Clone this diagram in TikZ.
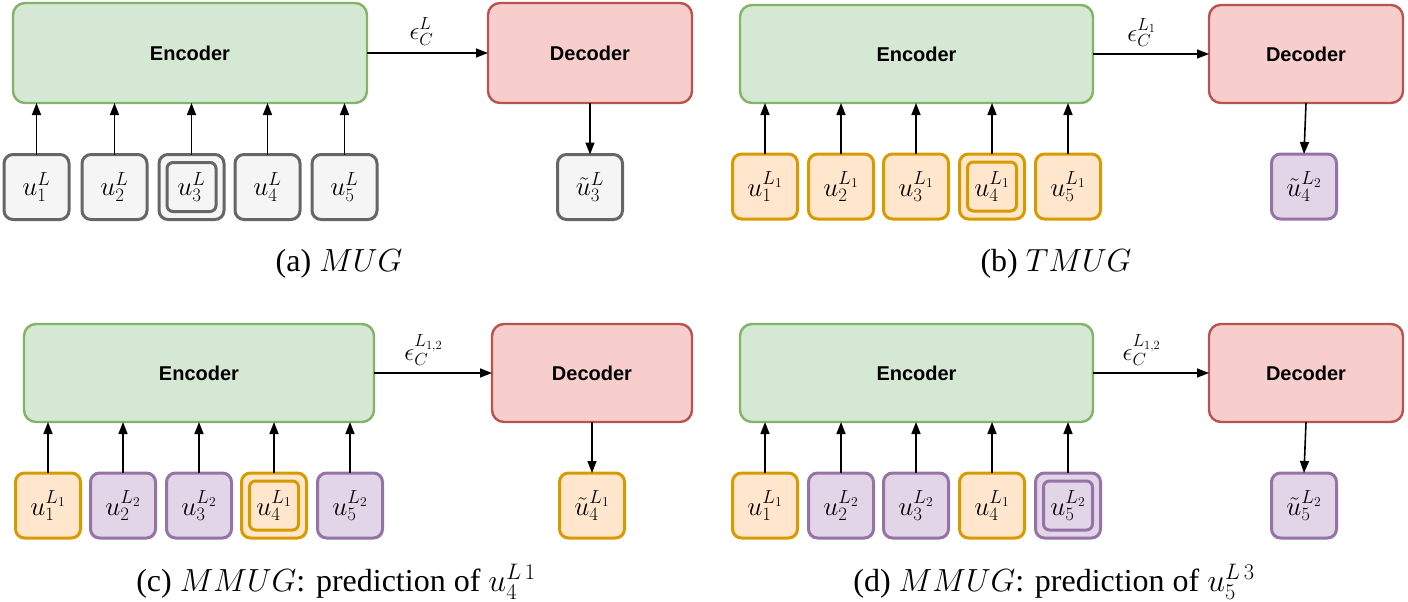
\RequirePackage{fix-cm}
\documentclass[tikz,border=0pt]{standalone}
\usepackage{fontspec}
\setmainfont{Liberation Serif}
\newfontfamily\hvfont{Liberation Sans}
\usetikzlibrary{arrows.meta}
\definecolor{gfill}{HTML}{F5F5F5}\definecolor{gline}{HTML}{666666}
\definecolor{ofill}{HTML}{FFE6CC}\definecolor{oline}{HTML}{D79B00}
\definecolor{pfill}{HTML}{E1D5E7}\definecolor{pline}{HTML}{9673A6}
\definecolor{encfill}{HTML}{D5E8D4}\definecolor{encline}{HTML}{82B366}
\definecolor{decfill}{HTML}{F8CECC}\definecolor{decline}{HTML}{B85450}
\begin{document}
\begin{tikzpicture}[x=1pt,y=-1pt,
  blk/.style={rounded corners=12pt, line width=2.4pt, inner sep=0pt, outer sep=0pt,
    font=\hvfont\bfseries\fontsize{20}{24}\selectfont},
  enc/.style={blk, draw=encline, fill=encfill},
  dec/.style={blk, draw=decline, fill=decfill},
  ubox/.style={rounded corners=9pt, line width=3pt, minimum width=65pt, minimum height=65pt,
    inner sep=0pt, outer sep=0pt, font=\fontsize{27}{30}\selectfont},
  gbox/.style={ubox, draw=gline, fill=gfill},
  obox/.style={ubox, draw=oline, fill=ofill},
  pbox/.style={ubox, draw=pline, fill=pfill},
  inbox/.style={rounded corners=6pt, line width=3pt, minimum width=49pt, minimum height=49pt,
    inner sep=0pt, fill=none},
  utxt/.style={font=\fontsize{27}{30}\selectfont, inner sep=0pt},
  arr/.style={line width=1.6pt, -{Triangle[length=12pt,width=9pt]}},
  elbl/.style={font=\fontsize{25}{28}\selectfont, inner sep=1pt},
  captxt/.style={font=\fontsize{32}{36}\selectfont, inner sep=0pt}
]
\useasboundingbox (0,0) rectangle (1408,602);

% ---------- panel (a)
\node[enc, minimum width=354pt, minimum height=100pt] (ea) at (190,53) {Encoder};
\node[dec, minimum width=204pt, minimum height=100pt] (da) at (590,53) {Decoder};
\node[gbox] (a1) at (36.5,187) {$u_1^L$};
\node[gbox] (a2) at (114.5,187) {$u_2^L$};
\node[gbox] (a3) at (191.5,187) {};
\node[inbox, draw=gline] (a3i) at (a3.center) {};
\node[utxt] (a3t) at (a3.center) {$u_3^L$};
\node[gbox] (a4) at (267.5,187) {$u_4^L$};
\node[gbox] (a5) at (344.5,187) {$u_5^L$};
\node[gbox] (ao) at (590,187) {$\tilde u_3^L$};
\foreach \i in {1,...,5} \draw[arr] (a\i.north) -- (a\i.north |- ea.south);
\draw[arr] (ea) -- node[pos=0.45, above=6pt, elbl] (la) {$\epsilon_C^L$} (da);
\draw[arr] (da.south) -- (ao.north);
\node[captxt] (capa) at (339,264) {(a) $MUG$};

% ---------- panel (b)
\node[enc, minimum width=353pt, minimum height=98pt] (eb) at (916.5,54) {Encoder};
\node[dec, minimum width=194pt, minimum height=98pt] (db) at (1306,54) {Decoder};
\node[obox] (b1) at (765,186.5) {$u_1^{L_1}$};
\node[obox] (b2) at (841,186.5) {$u_2^{L_1}$};
\node[obox] (b3) at (916,186.5) {$u_3^{L_1}$};
\node[obox] (b4) at (992,186.5) {};
\node[inbox, draw=oline] (b4i) at (b4.center) {};
\node[utxt] (b4t) at (b4.center) {$u_4^{L_1}$};
\node[obox] (b5) at (1068,186.5) {$u_5^{L_1}$};
\node[pbox] (bo) at (1304,186.5) {$\tilde u_4^{L_2}$};
\foreach \i in {1,...,5} \draw[arr] (b\i.north) -- (b\i.north |- eb.south);
\draw[arr] (eb) -- node[pos=0.42, above=6pt, elbl] (lb) {$\epsilon_C^{L_1}$} (db);
\draw[arr] (db.south) -- (bo.north);
\node[captxt] (capb) at (1056,264) {(b) $TMUG$};

% ---------- panel (c)
\node[enc, minimum width=350pt, minimum height=98pt] (ec) at (199,373) {Encoder};
\node[dec, minimum width=200pt, minimum height=98pt] (dc) at (592,373) {Decoder};
\node[obox] (c1) at (48,505.5) {$u_1^{L_1}$};
\node[pbox] (c2) at (123,505.5) {$u_2^{L_2}$};
\node[pbox] (c3) at (199,505.5) {$u_3^{L_2}$};
\node[obox] (c4) at (274,505.5) {};
\node[inbox, draw=oline] (c4i) at (c4.center) {};
\node[utxt] (c4t) at (c4.center) {$u_4^{L_1}$};
\node[pbox] (c5) at (350,505.5) {$u_5^{L_2}$};
\node[obox] (co) at (592,505.5) {$\tilde u_4^{L_1}$};
\foreach \i in {1,...,5} \draw[arr] (c\i.north) -- (c\i.north |- ec.south);
\draw[arr] (ec) -- node[pos=0.42, above=6pt, elbl] (lc) {$\epsilon_C^{L_{1,2}}$} (dc);
\draw[arr] (dc.south) -- (co.north);
\node[captxt] (capc) at (336,582) {(c) $MMUG$: prediction of $u_4^{L\,1}$};

% ---------- panel (d)
\node[enc, minimum width=353pt, minimum height=98pt] (ed) at (916.5,373) {Encoder};
\node[dec, minimum width=194pt, minimum height=98pt] (dd) at (1306,373) {Decoder};
\node[obox] (d1) at (765,505.5) {$u_1^{L_1}$};
\node[pbox] (d2) at (841,505.5) {$u_2^{L_2}$};
\node[pbox] (d3) at (916,505.5) {$u_3^{L_2}$};
\node[obox] (d4) at (992,505.5) {$u_4^{L_1}$};
\node[pbox] (d5) at (1068,505.5) {};
\node[inbox, draw=pline] (d5i) at (d5.center) {};
\node[utxt] (d5t) at (d5.center) {$u_5^{L_2}$};
\node[pbox] (do) at (1304,505.5) {$\tilde u_5^{L_2}$};
\foreach \i in {1,...,5} \draw[arr] (d\i.north) -- (d\i.north |- ed.south);
\draw[arr] (ed) -- node[pos=0.42, above=6pt, elbl] (ld) {$\epsilon_C^{L_{1,2}}$} (dd);
\draw[arr] (dd.south) -- (do.north);
\node[captxt] (capd) at (1054,582) {(d) $MMUG$: prediction of $u_5^{L\,3}$};
\end{tikzpicture}
\end{document}
